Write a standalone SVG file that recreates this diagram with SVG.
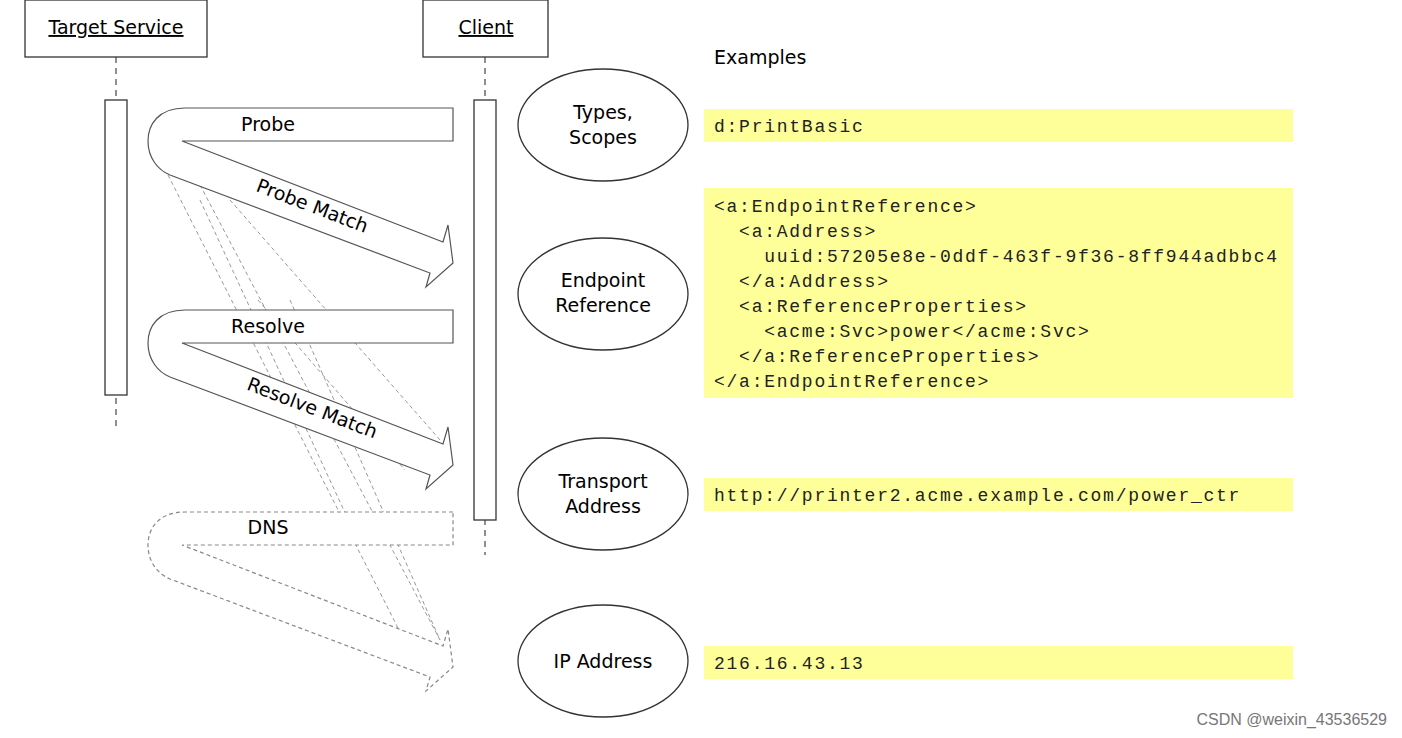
<svg xmlns="http://www.w3.org/2000/svg" width="1402" height="738" viewBox="0 0 1402 738">
<style>
.t{font-family:"DejaVu Sans",sans-serif;font-size:19px;fill:#000}
.m{font-family:"Liberation Mono",monospace;font-size:18px;letter-spacing:1.75px;fill:#222}
.box{fill:#fff;stroke:#333;stroke-width:1.3}
.y{fill:#ffff99}
.arr{fill:#fff;stroke:#555;stroke-width:1.2}
.dns{fill:#fff;stroke:#888;stroke-width:1.2;stroke-dasharray:4 3}
.dl{stroke:#999;stroke-width:1;stroke-dasharray:4 3;fill:none}
.ll{stroke:#555;stroke-width:1.3;stroke-dasharray:6 5}
</style>
<rect width="1402" height="738" fill="#fff"/>
<g id="target"><line class="ll" x1="116" y1="57" x2="116" y2="430"/><rect class="box" x="25" y="0" width="182" height="57"/><text class="t" x="116" y="34" text-anchor="middle" text-decoration="underline">Target Service</text><rect class="box" x="105" y="100" width="22" height="295"/></g>
<g id="client"><line class="ll" x1="485" y1="57" x2="485" y2="555"/><rect class="box" x="423" y="0" width="125" height="57"/><text class="t" x="486" y="34" text-anchor="middle" text-decoration="underline">Client</text><rect class="box" x="474" y="100" width="22" height="420"/></g>
<g id="connectors">
<path class="dl" d="M168,175 L398,628 M200,185 L440,640 M230,200 L440,440 M258,300 L405,470 M290,300 L440,640 M200,200 L360,545"/>
<path id="probe" class="arr" d="M453,108 H185 C158,108 148,125 148,141 C148,158 158,170 170,175 L430,273 L426,287 L453,263 L448,225 L443,242 L182,141 H453 Z"/>
<path id="resolve" class="arr" transform="translate(0,202)" d="M453,108 H185 C158,108 148,125 148,141 C148,158 158,170 170,175 L430,273 L426,287 L453,263 L448,225 L443,242 L182,141 H453 Z"/>
<path id="dns" class="dns" transform="translate(0,404)" d="M453,108 H185 C158,108 148,125 148,141 C148,158 158,170 170,175 L430,273 L426,287 L453,263 L448,225 L443,242 L182,141 H453 Z"/>
<text class="t" x="268" y="131" text-anchor="middle">Probe</text>
<text class="t" x="268" y="333" text-anchor="middle">Resolve</text>
<text class="t" x="268" y="534" text-anchor="middle">DNS</text>
<text class="t" transform="translate(310,212) rotate(21)" text-anchor="middle">Probe Match</text>
<text class="t" transform="translate(310,414) rotate(21)" text-anchor="middle">Resolve Match</text>
</g>
<text class="t" x="714" y="64">Examples</text>
<g id="e1"><ellipse class="box" cx="603" cy="125" rx="85" ry="56"/><text class="t" x="603" y="119" text-anchor="middle">Types,</text><text class="t" x="603" y="144" text-anchor="middle">Scopes</text></g>
<g id="e2"><ellipse class="box" cx="603" cy="294" rx="85" ry="56"/><text class="t" x="603" y="287" text-anchor="middle">Endpoint</text><text class="t" x="603" y="312" text-anchor="middle">Reference</text></g>
<g id="e3"><ellipse class="box" cx="603" cy="494" rx="85" ry="56"/><text class="t" x="603" y="488" text-anchor="middle">Transport</text><text class="t" x="603" y="513" text-anchor="middle">Address</text></g>
<g id="e4"><ellipse class="box" cx="603" cy="661" rx="85" ry="56"/><text class="t" x="603" y="668" text-anchor="middle">IP Address</text></g>
<g id="x1"><rect class="y" x="704" y="109" width="589" height="33"/><text class="m" x="714" y="132">d:PrintBasic</text></g>
<g id="x2"><rect class="y" x="704" y="188" width="589" height="210"/>
<text class="m" xml:space="preserve"><tspan x="714" y="212">&lt;a:EndpointReference&gt;</tspan><tspan x="714" y="237">  &lt;a:Address&gt;</tspan><tspan x="714" y="262">    uuid:57205e8e-0ddf-463f-9f36-8ff944adbbc4</tspan><tspan x="714" y="287">  &lt;/a:Address&gt;</tspan><tspan x="714" y="312">  &lt;a:ReferenceProperties&gt;</tspan><tspan x="714" y="337">    &lt;acme:Svc&gt;power&lt;/acme:Svc&gt;</tspan><tspan x="714" y="362">  &lt;/a:ReferenceProperties&gt;</tspan><tspan x="714" y="387">&lt;/a:EndpointReference&gt;</tspan></text></g>
<g id="x3"><rect class="y" x="704" y="478" width="589" height="33"/><text class="m" x="714" y="501">http://printer2.acme.example.com/power_ctr</text></g>
<g id="x4"><rect class="y" x="704" y="646" width="589" height="33"/><text class="m" x="714" y="669">216.16.43.13</text></g>
<text x="1387" y="725" text-anchor="end" style="font-family:'Liberation Sans',sans-serif;font-size:16px;fill:#777">CSDN @weixin_43536529</text>
</svg>
